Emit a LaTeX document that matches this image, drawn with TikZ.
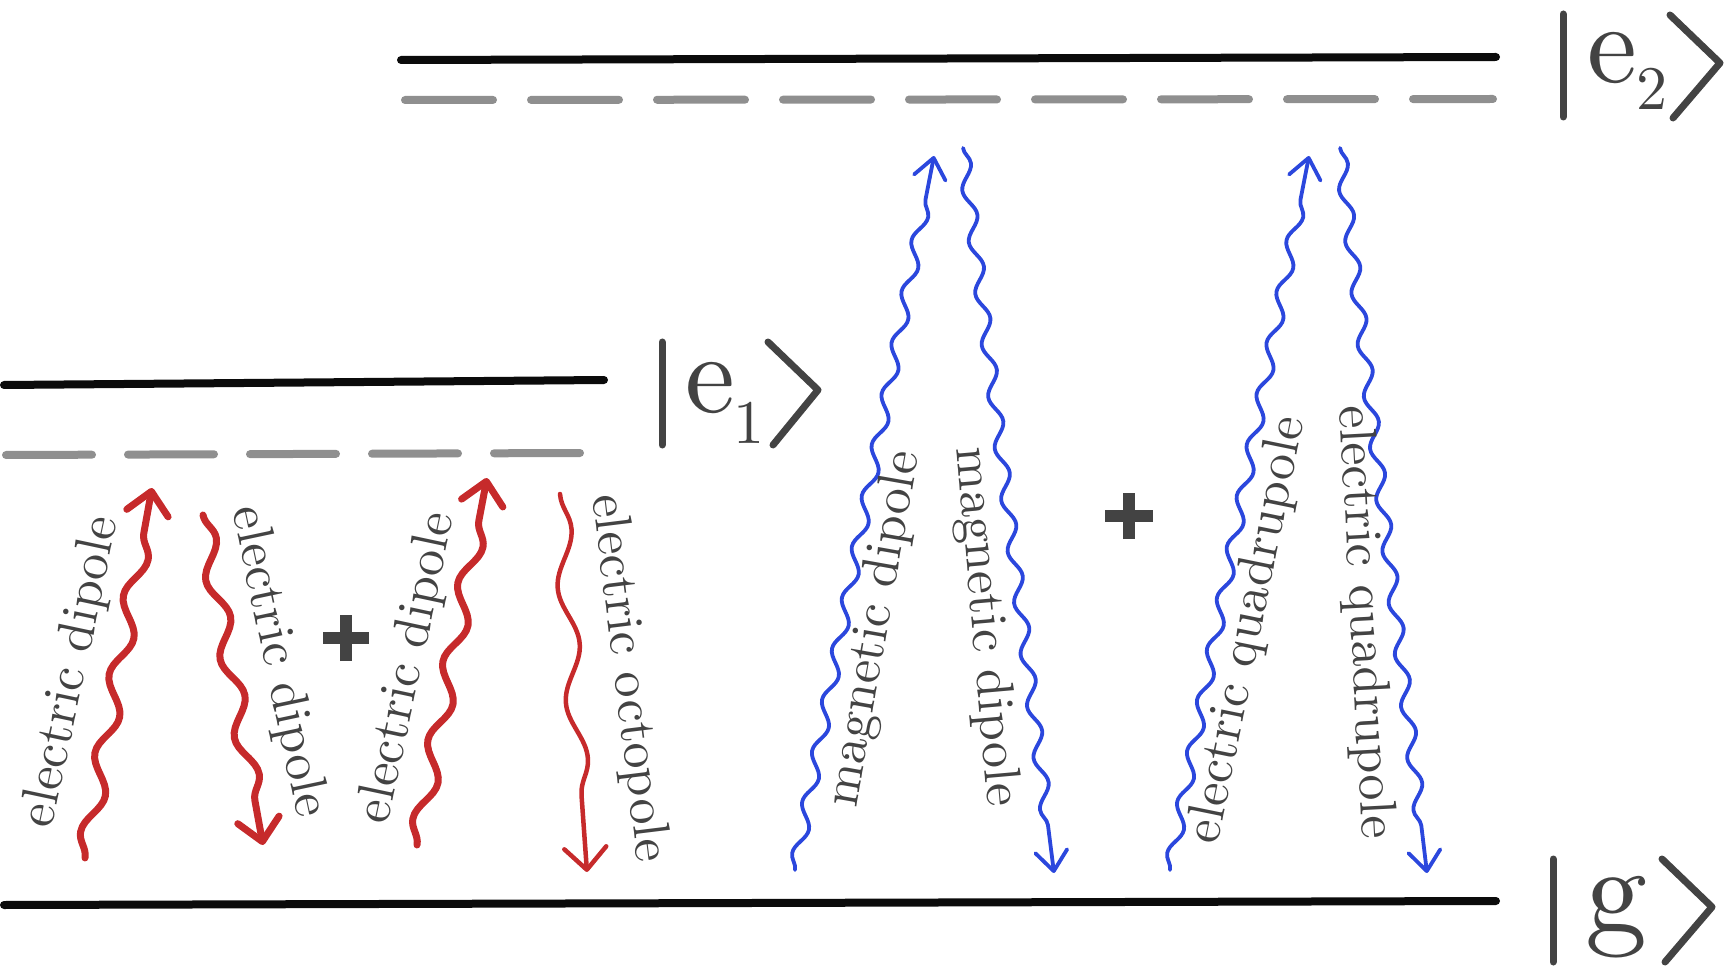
\documentclass[tikz,border=0pt]{standalone}
\usepackage{fontspec}
\setmainfont{lmroman10-regular}[Extension=.otf]
\usetikzlibrary{decorations.pathmorphing,arrows.meta}
\definecolor{wred}{HTML}{C62A2B}
\definecolor{wblue}{HTML}{2B47DD}
\definecolor{lvl}{HTML}{0B0B0B}
\definecolor{dsh}{HTML}{8F8F8F}
\definecolor{ink}{HTML}{434343}
\begin{document}
\begin{tikzpicture}[x=1pt,y=-1pt,
 level/.style={draw=lvl,line width=8pt,line cap=round},
 sublevel/.style={draw=dsh,line width=8pt,line cap=round},
 ketline/.style={draw=ink,line width=7pt,line cap=round,line join=round},
 ketsym/.style={text=ink,inner sep=0pt,anchor=base west,font=\fontsize{112}{112}\selectfont},
 ketsub/.style={text=ink,inner sep=0pt,anchor=base west,font=\fontsize{62}{62}\selectfont},
 lbl/.style={text=ink,inner sep=0pt,font=\fontsize{52}{58}\selectfont},
 plussign/.style={draw=ink,line width=12pt},
 redwave/.style={draw=wred,line width=7pt,line cap=round,line join=round,decorate,
   decoration={snake,segment length=80pt,amplitude=9pt,post length=26pt},
   -{Straight Barb[length=22pt,width=42pt,round]}},
 redthin/.style={draw=wred,line width=4.5pt,line cap=round,line join=round,decorate,
   decoration={snake,segment length=115pt,amplitude=9pt,post length=26pt},
   -{Straight Barb[length=22pt,width=42pt,round]}},
 bluewave/.style={draw=wblue,line width=3.8pt,line cap=round,line join=round,decorate,
   decoration={snake,segment length=52pt,amplitude=6pt,post length=24pt},
   -{Straight Barb[length=20pt,width=32pt,round]}}
]
\useasboundingbox (0,0) rectangle (1725,968);
% energy levels
\coordinate (e2a) at (401,60);   \coordinate (e2b) at (1496,57);
\coordinate (e2da) at (405,100); \coordinate (e2db) at (1493,99);
\coordinate (e1a) at (4,385);    \coordinate (e1b) at (604,380);
\coordinate (e1da) at (6,455);   \coordinate (e1db) at (580,453);
\coordinate (ga) at (4,905);     \coordinate (gb) at (1496,901);
\draw[level] (e2a) -- (e2b);
\draw[sublevel,dash pattern=on 88pt off 38pt] (e2da) -- (e2db);
\draw[level] (e1a) -- (e1b);
\draw[sublevel,dash pattern=on 86pt off 36pt] (e1da) -- (e1db);
\draw[level] (ga) -- (gb);
% kets
\draw[ketline] (662,342) -- (662,445);
\draw[ketline] (768,342) -- (818,390) -- (773,445);
\node[ketsym] (ke1) at (685,413) {e};
\node[ketsub] (ke1s) at (733,443) {1};
\draw[ketline] (1563,14) -- (1563,117);
\draw[ketline] (1670,15) -- (1720,63) -- (1673,118);
\node[ketsym] (ke2) at (1587,83) {e};
\node[ketsub] (ke2s) at (1636,110) {2};
\draw[ketline] (1553,859) -- (1553,962);
\draw[ketline] (1662,859) -- (1712,907) -- (1665,962);
\node[ketsym,font=\fontsize{124}{124}\selectfont] (kg) at (1585,932) {g};
% plus signs
\coordinate (plusA) at (346,638);
\coordinate (plusB) at (1129,516);
\draw[plussign] ([xshift=-23pt]plusA) -- ([xshift=23pt]plusA);
\draw[plussign] ([yshift=-23pt]plusA) -- ([yshift=23pt]plusA);
\draw[plussign] ([xshift=-24pt]plusB) -- ([xshift=24pt]plusB);
\draw[plussign] ([yshift=-23pt]plusB) -- ([yshift=23pt]plusB);
% red transitions
\coordinate (r1s) at (85,858);  \coordinate (r1e) at (152,488);
\coordinate (r2s) at (203,515); \coordinate (r2e) at (263,845);
\coordinate (r3s) at (417,845); \coordinate (r3e) at (487,478);
\coordinate (r4s) at (560,494); \coordinate (r4e) at (587,872);
\draw[redwave] (r1s) -- (r1e);
\draw[redwave] (r2s) -- (r2e);
\draw[redwave] (r3s) -- (r3e);
\draw[redthin] (r4s) -- (r4e);
% blue transitions
\coordinate (b1s) at (795,870);  \coordinate (b1e) at (934,156);
\coordinate (b2s) at (963,148);  \coordinate (b2e) at (1054,873);
\coordinate (b3s) at (1170,870); \coordinate (b3e) at (1309,156);
\coordinate (b4s) at (1340,148); \coordinate (b4e) at (1427,873);
\draw[bluewave] (b1s) -- (b1e);
\draw[bluewave] (b2s) -- (b2e);
\draw[bluewave] (b3s) -- (b3e);
\draw[bluewave] (b4s) -- (b4e);
% labels
\node[lbl,rotate=78] (l1) at (72,672) {electric dipole};
\node[lbl,rotate=-78] (l2) at (278,662) {electric dipole};
\node[lbl,rotate=78] (l3) at (408,668) {electric dipole};
\node[lbl,rotate=-83] (l4) at (628,678) {electric octopole};
\node[lbl,rotate=80] (l5) at (875,629) {magnetic dipole};
\node[lbl,rotate=-85] (l6) at (985,627) {magnetic dipole};
\node[lbl,rotate=78.5] (l7) at (1248,630) {electric quadrupole};
\node[lbl,rotate=-87] (l8) at (1364,622) {electric quadrupole};
\end{tikzpicture}
\end{document}
